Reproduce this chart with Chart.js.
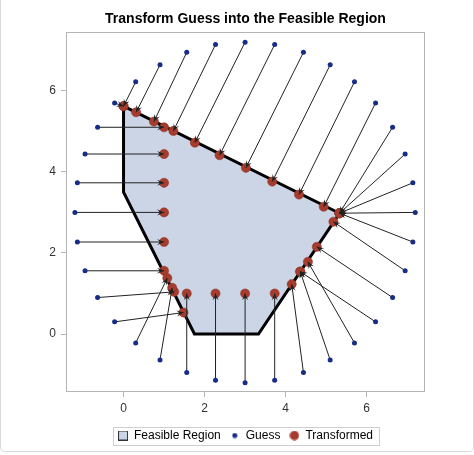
<!DOCTYPE html>
<html>
<head>
<meta charset="utf-8">
<title>Transform Guess into the Feasible Region</title>
<script src="https://cdn.jsdelivr.net/npm/chart.js@4.4.1/dist/chart.umd.min.js"></script>
<style>
  html, body { margin: 0; padding: 0; background: #fff; }
</style>
</head>
<body>
<canvas id="chart" width="474" height="455"></canvas>
<script>
// feasible region (closed polygon)
const regionX = [0, 5.33, 3.33, 1.75, 0, 0];
const regionY = [5.62, 2.98, 0, 0, 3.5, 5.62];

// initial guesses
const guessX = [7.20, 7.14, 6.95, 6.64, 6.22, 5.70, 5.10, 4.44, 3.73, 3.00, 2.27, 1.56,
                0.90, 0.30, -0.22, -0.64, -0.95, -1.14, -1.20, -1.14, -0.95, -0.64, -0.22, 0.30,
                0.90, 1.56, 2.27, 3.00, 3.73, 4.44, 5.10, 5.70, 6.22, 6.64, 6.95, 7.14];
const guessY = [3.00, 3.73, 4.44, 5.10, 5.70, 6.22, 6.64, 6.95, 7.14, 7.20, 7.14, 6.95,
                6.64, 6.22, 5.70, 5.10, 4.44, 3.73, 3.00, 2.27, 1.56, 0.90, 0.30, -0.22,
                -0.64, -0.95, -1.14, -1.20, -1.14, -0.95, -0.64, -0.22, 0.30, 0.90, 1.56, 2.27];

// transformed points (same order as guesses)
const transX = [5.33, 5.33, 5.33, 5.33, 4.94, 4.33, 3.67, 3.02, 2.37, 1.76, 1.23, 0.75,
                0.31, 0.00, 0.00, 1.00, 1.00, 1.00, 1.00, 1.00, 1.00, 1.25, 1.48, 1.08,
                1.20, 1.56, 2.27, 3.00, 3.73, 4.15, 4.36, 4.55, 4.36, 4.77, 5.18, 5.33];
const transY = [2.98, 2.98, 2.98, 2.98, 3.14, 3.44, 3.76, 4.10, 4.41, 4.72, 5.01, 5.24,
                5.47, 5.62, 5.62, 5.10, 4.44, 3.73, 3.00, 2.27, 1.56, 1.04, 0.53, 1.38,
                1.14, 1.00, 1.00, 1.00, 1.00, 1.23, 1.54, 1.78, 1.54, 2.15, 2.77, 2.98];

const xTicks = [0, 2, 4, 6];
const yTicks = [0, 2, 4, 6];

const regionFill = '#cbd5e6';
const guessColor = '#162c86';
const transColor = '#a63c2e';
const frameColor = '#b4b4b4';
const font = "'Liberation Sans', Arial, sans-serif";

const toPoints = (xs, ys) => xs.map((x, i) => ({x: x, y: ys[i]}));

function icon(w, h, draw) {
    const c = document.createElement('canvas');
    c.width = w;
    c.height = h;
    draw(c.getContext('2d'));
    return c;
}
const regionIcon = icon(10, 10, g => {
    g.fillStyle = regionFill;
    g.fillRect(0.5, 0.5, 9, 9);
    g.strokeStyle = '#333';
    g.lineWidth = 1;
    g.strokeRect(0.5, 0.5, 9, 9);
});
const guessIcon = icon(6, 6, g => {
    g.fillStyle = guessColor;
    g.beginPath(); g.arc(3, 3, 2.5, 0, Math.PI * 2); g.fill();
});
const transIcon = icon(10, 10, g => {
    g.fillStyle = transColor;
    g.beginPath(); g.arc(5, 5, 4.7, 0, Math.PI * 2); g.fill();
});

function drawArrow(ctx, x0, y0, x1, y1) {
    ctx.beginPath();
    ctx.moveTo(x0, y0);
    ctx.lineTo(x1, y1);
    ctx.stroke();
    const len = Math.hypot(x1 - x0, y1 - y0);
    if (len < 1) return;
    const a = Math.atan2(y1 - y0, x1 - x0);
    const head = 7.5, wing = 0.42;
    ctx.beginPath();
    ctx.moveTo(x1, y1);
    ctx.lineTo(x1 - head * Math.cos(a - wing), y1 - head * Math.sin(a - wing));
    ctx.lineTo(x1 - head * 0.55 * Math.cos(a), y1 - head * 0.55 * Math.sin(a));
    ctx.lineTo(x1 - head * Math.cos(a + wing), y1 - head * Math.sin(a + wing));
    ctx.closePath();
    ctx.fill();
}

// arrows from guess to transformed, drawn right after the transformed markers
const arrowPlugin = {
    id: 'arrows',
    afterDatasetDraw(chart, args) {
        if (args.index !== 2) return;
        const {ctx, scales: {x, y}} = chart;
        ctx.save();
        ctx.strokeStyle = '#222';
        ctx.fillStyle = '#222';
        ctx.lineWidth = 1;
        guessX.forEach((gx, i) => {
            drawArrow(ctx,
                x.getPixelForValue(gx), y.getPixelForValue(guessY[i]),
                x.getPixelForValue(transX[i]), y.getPixelForValue(transY[i]));
        });
        ctx.restore();
    }
};

// plot frame, legend box, outer border
const framePlugin = {
    id: 'frame',
    afterDraw(chart) {
        const {ctx, chartArea: a} = chart;
        ctx.save();
        ctx.strokeStyle = frameColor;
        ctx.lineWidth = 1;
        ctx.strokeRect(Math.round(a.left) + 0.5, Math.round(a.top) + 0.5,
            Math.round(a.right - a.left) - 1, Math.round(a.bottom - a.top) - 1);

        const hb = chart.legend.legendHitBoxes;
        if (hb && hb.length) {
            const first = hb[0], last = hb[hb.length - 1];
            const l = Math.round(first.left - 5) + 0.5;
            const r = Math.round(last.left + last.width + 6) + 0.5;
            const t = Math.round(first.top - 3) + 0.5;
            const b = Math.round(first.top + first.height + 3) + 0.5;
            ctx.strokeStyle = '#cfcfcf';
            ctx.strokeRect(l, t, r - l, b - t);
        }

        ctx.strokeStyle = '#dadada';
        ctx.beginPath();
        ctx.moveTo(0.5, 0);
        ctx.lineTo(0.5, 447);
        ctx.quadraticCurveTo(0.5, 451.5, 5, 451.5);
        ctx.lineTo(469, 451.5);
        ctx.quadraticCurveTo(473.5, 451.5, 473.5, 447);
        ctx.lineTo(473.5, 0);
        ctx.stroke();
        ctx.restore();
    }
};

const ctx = document.getElementById('chart').getContext('2d');
const myChart = new Chart(ctx, {
    type: 'scatter',
    data: {
        datasets: [{
            label: 'Feasible Region',
            data: toPoints(regionX, regionY),
            showLine: true,
            fill: 'shape',
            backgroundColor: regionFill,
            borderColor: '#000',
            borderWidth: 3,
            borderJoinStyle: 'miter',
            pointRadius: 0,
            pointHoverRadius: 0,
            order: 3
        }, {
            label: 'Guess',
            data: toPoints(guessX, guessY),
            backgroundColor: guessColor,
            borderWidth: 0,
            pointRadius: 2.5,
            order: 1
        }, {
            label: 'Transformed',
            data: toPoints(transX, transY),
            backgroundColor: transColor,
            borderColor: '#8e3024',
            borderWidth: 0.5,
            pointRadius: 4.6,
            order: 2
        }]
    },
    options: {
        responsive: false,
        animation: false,
        layout: {
            padding: {left: 17, right: 0, top: 0, bottom: 3.5}
        },
        scales: {
            x: {
                type: 'linear',
                min: -1.42,
                max: 7.44,
                afterBuildTicks: s => { s.ticks = xTicks.map(v => ({value: v})); },
                afterFit: s => { s.height = 28.5; },
                grid: {drawOnChartArea: false, drawTicks: true, tickLength: 5, color: frameColor},
                border: {display: false},
                ticks: {color: '#333', padding: 4, font: {family: font, size: 12}, maxRotation: 0}
            },
            y: {
                type: 'linear',
                min: -1.43,
                max: 7.45,
                afterBuildTicks: s => { s.ticks = yTicks.map(v => ({value: v})); },
                afterFit: s => { s.width = 49; },
                grid: {drawOnChartArea: false, drawTicks: true, tickLength: 5, color: frameColor},
                border: {display: false},
                ticks: {color: '#333', padding: 5, font: {family: font, size: 12}}
            },
            yRight: {
                type: 'linear',
                position: 'right',
                display: true,
                afterFit: s => { s.width = 49; },
                grid: {display: false},
                border: {display: false},
                ticks: {display: false}
            }
        },
        plugins: {
            title: {
                display: true,
                text: 'Transform Guess into the Feasible Region',
                color: '#000',
                font: {family: font, size: 14, weight: 'bold'},
                padding: {top: 11, bottom: 4.2}
            },
            legend: {
                position: 'bottom',
                labels: {
                    usePointStyle: true,
                    boxWidth: 10,
                    padding: 9,
                    color: '#333',
                    font: {family: font, size: 12},
                    generateLabels: () => [
                        {text: 'Feasible Region', pointStyle: regionIcon, datasetIndex: 0, hidden: false, lineWidth: 0},
                        {text: 'Guess', pointStyle: guessIcon, datasetIndex: 1, hidden: false, lineWidth: 0},
                        {text: 'Transformed', pointStyle: transIcon, datasetIndex: 2, hidden: false, lineWidth: 0}
                    ]
                }
            },
            tooltip: {enabled: false}
        }
    },
    plugins: [arrowPlugin, framePlugin]
});
</script>
</body>
</html>
